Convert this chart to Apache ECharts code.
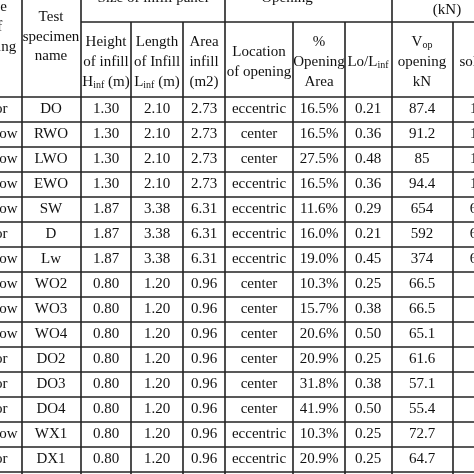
<!DOCTYPE html>
<html>
<head>
<meta charset="utf-8">
<script src="https://cdn.jsdelivr.net/npm/echarts@6/dist/echarts.min.js"></script>
<style>html,body{margin:0;padding:0;background:#fff}#chart{width:474px;height:474px}</style>
</head>
<body>
<div id="chart"></div>
<script>
var types = ['Door','Window','Window','Window','Window','Door','Window','Window','Window','Window','Door','Door','Door','Window','Door'];
var names = ['DO','RWO','LWO','EWO','SW','D','Lw','WO2','WO3','WO4','DO2','DO3','DO4','WX1','DX1'];
var heights = ['1.30','1.30','1.30','1.30','1.87','1.87','1.87','0.80','0.80','0.80','0.80','0.80','0.80','0.80','0.80'];
var lengths = ['2.10','2.10','2.10','2.10','3.38','3.38','3.38','1.20','1.20','1.20','1.20','1.20','1.20','1.20','1.20'];
var areas = ['2.73','2.73','2.73','2.73','6.31','6.31','6.31','0.96','0.96','0.96','0.96','0.96','0.96','0.96','0.96'];
var locations = ['eccentric','center','center','eccentric','eccentric','eccentric','eccentric','center','center','center','center','center','center','eccentric','eccentric'];
var openPct = ['16.5%','16.5%','27.5%','16.5%','11.6%','16.0%','19.0%','10.3%','15.7%','20.6%','20.9%','31.8%','41.9%','10.3%','20.9%'];
var loRatio = ['0.21','0.36','0.48','0.36','0.29','0.21','0.45','0.25','0.38','0.50','0.25','0.38','0.50','0.25','0.25'];
var vop = ['87.4','91.2','85','94.4','654','592','374','66.5','66.5','65.1','61.6','57.1','55.4','72.7','64.7'];
var vsolid = ['116','116','116','116','698','698','698','84','84','84','84','84','84','84','84'];

// table layout (pixels)
var colMid = [-8, 51, 106, 157, 204, 259, 319, 368, 422, 481];
var headTop = 22, headBot = 97, rowH = 25;

var font = '"Liberation Serif", "DejaVu Serif", serif';
var rich = {s: {fontSize: 10, fontFamily: font, verticalAlign: 'bottom', padding: [6, 0, 0, 0]}};

var cells = [];
var cols = [types, names, heights, lengths, areas, locations, openPct, loRatio, vop, vsolid];
names.forEach(function (n, r) {
    cols.forEach(function (col, c) {
        cells.push([colMid[c], headBot + rowH * (r + 0.5), col[r]]);
    });
});
// header texts
var heads = [
    [-8, 7, 'Type'], [-4, 27, 'of'], [-8, 47, 'opening'],
    [51, 17, 'Test'], [51, 37, 'specimen'], [51, 56, 'name'],
    [106, 42, 'Height'], [106, 62, 'of infill'], [106, 82, 'H{s|inf} (m)'],
    [157, 42, 'Length'], [157, 62, 'of Infill'], [157, 82, 'L{s|inf} (m)'],
    [204, 42, 'Area'], [204, 62, 'infill'], [204, 82, '(m2)'],
    [259, 52, 'Location'], [259, 72, 'of opening'],
    [319, 42, '%'], [319, 62, 'Opening'], [319, 82, 'Area'],
    [368, 62, 'Lo/L{s|inf}'],
    [422, 42, 'V{s|op}'], [422, 62, 'opening'], [422, 82, 'kN'],
    [474, 62, 'solid'],
    [153, -2, 'Size of infill panel'], [287, -2, 'Opening'], [447, 10, '(kN)']
];
cells = cells.concat(heads);

var lines = [];
for (var i = 0; i <= names.length; i++) lines.push([0, headBot + rowH * i, 474, headBot + rowH * i]);
lines.push([81, headTop, 474, headTop]);
[22, 81, 225, 392].forEach(function (x) { lines.push([x, -5, x, 474]); });
[131, 183, 293, 345, 453].forEach(function (x) { lines.push([x, headTop, x, 474]); });

var chart = echarts.init(document.getElementById('chart'));
chart.setOption({
    animation: false,
    grid: {left: 0, right: 0, top: 0, bottom: 0},
    xAxis: {type: 'value', min: 0, max: 474, show: false},
    yAxis: {type: 'value', min: 0, max: 474, inverse: true, show: false},
    series: [
        {
            type: 'custom',
            data: lines,
            clip: false,
            renderItem: function (params, api) {
                var a = api.coord([api.value(0), api.value(1)]);
                var b = api.coord([api.value(2), api.value(3)]);
                return {type: 'line', shape: {x1: a[0], y1: a[1], x2: b[0], y2: b[1]},
                    style: {stroke: '#222', lineWidth: 1.6}};
            }
        },
        {
            type: 'custom',
            data: cells,
            clip: false,
            renderItem: function (params, api) {
                var p = api.coord([api.value(0), api.value(1)]);
                var txt = cells[params.dataIndex][2];
                return {type: 'text', style: {text: txt, x: p[0], y: p[1], align: 'center',
                    verticalAlign: 'middle', fontSize: 15, fontFamily: font, fill: '#111', rich: rich}};
            }
        }
    ]
});
</script>
</body>
</html>
